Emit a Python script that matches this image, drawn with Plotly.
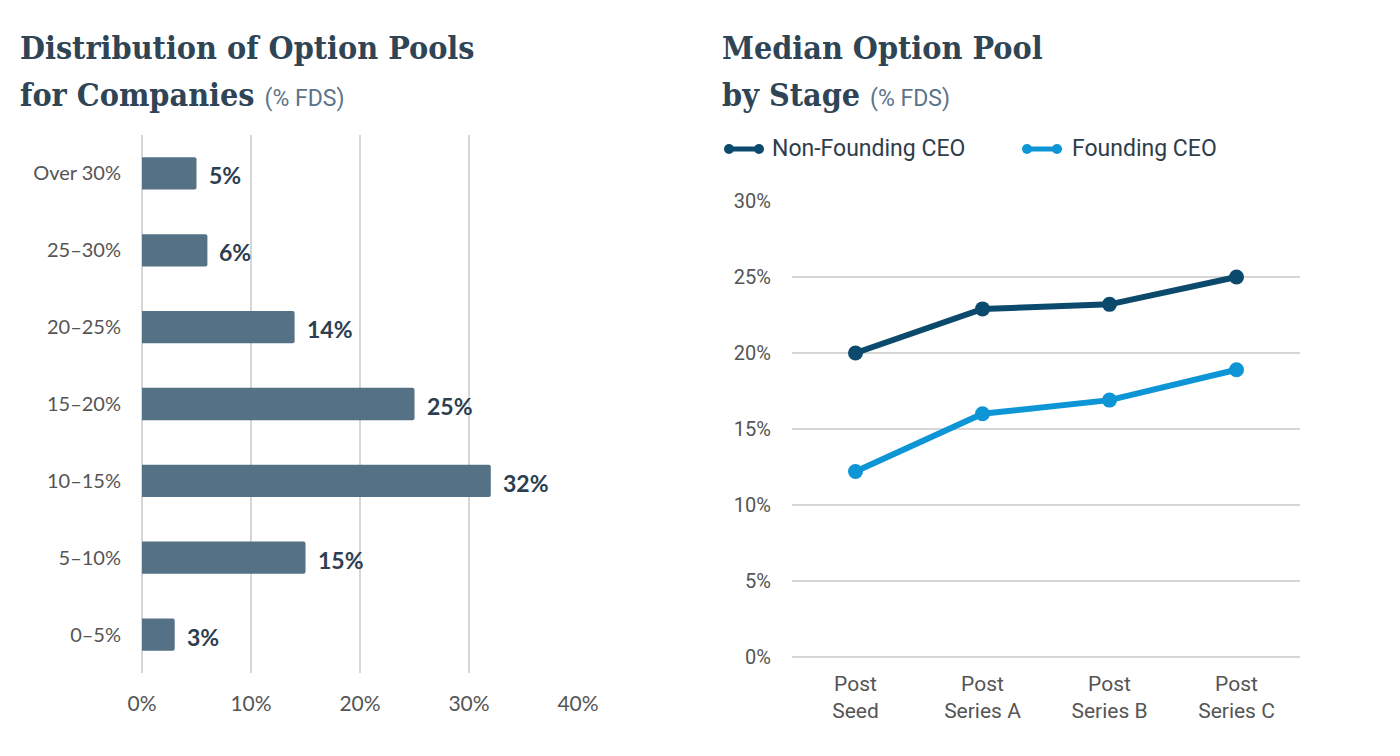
import plotly.graph_objects as go

# page body has an 8px margin; the figure is sized to fit inside the window
OFF = 8
W, H = 1400 - OFF, 756 - OFF

# ---------------- data ----------------
pool_ranges = ["0–5%", "5–10%", "10–15%", "15–20%", "20–25%", "25–30%", "Over 30%"]
pool_share = [3, 15, 32, 25, 14, 6, 5]
share_ticks = [0, 10, 20, 30, 40]
share_tick_labels = ["0%", "10%", "20%", "30%", "40%"]

stages = ["Post<br>Seed", "Post<br>Series A", "Post<br>Series B", "Post<br>Series C"]
non_founding = [20.0, 22.9, 23.2, 25.0]
founding = [12.2, 16.0, 16.9, 18.9]
pool_ticks = [0, 5, 10, 15, 20, 25, 30]
pool_tick_labels = ["0%", "5%", "10%", "15%", "20%", "25%", "30%"]

series_names = ["Non-Founding CEO", "Founding CEO"]

# ---------------- styles ----------------
TITLE_C = "#2f4556"
SUB_C = "#5b7489"
BAR_C = "#557186"
VAL_C = "#2c3e4f"
TICK_C = "#555555"
GRID_C = "#d6d6d6"
NF_C = "#0b4a6c"
F_C = "#0e95d6"
SANS = "Lato"
COND = "Roboto"
SERIF = "DejaVu Serif Condensed"

def px_x(p):
    return (p - OFF) / W

def px_y(p):
    return 1 - (p - OFF) / H

fig = go.Figure()

fig.add_trace(go.Bar(
    x=pool_share, y=pool_ranges, orientation="h",
    marker=dict(color=BAR_C, line=dict(width=0), cornerradius=2),
    width=0.42, xaxis="x", yaxis="y", showlegend=False, hoverinfo="skip",
))

for name, vals, col in [(series_names[0], non_founding, NF_C), (series_names[1], founding, F_C)]:
    fig.add_trace(go.Scatter(
        x=stages, y=vals, mode="lines+markers", name=name,
        line=dict(color=col, width=6),
        marker=dict(color=col, size=15),
        xaxis="x2", yaxis="y2", showlegend=False, hoverinfo="skip",
    ))

annotations = []
# value labels for bars
for cat, v in zip(pool_ranges, pool_share):
    annotations.append(dict(
        x=v, y=cat, xref="x", yref="y", text=f"{v}%", showarrow=False,
        xanchor="left", yanchor="middle", xshift=10, yshift=-2,
        font=dict(family=SANS, size=23, color=VAL_C, weight="bold"),
    ))

# titles
title_font = dict(family=SERIF, size=32, color=TITLE_C, weight="bold")
sub_span = "<span style='font-family:Roboto;font-size:23px;font-weight:normal;fill:%s'>(%% FDS)</span>" % SUB_C
annotations += [
    dict(x=px_x(18), y=px_y(48), xref="paper", yref="paper", xanchor="left", yanchor="middle",
         text="Distribution of Option Pools", showarrow=False, font=title_font),
    dict(x=px_x(18), y=px_y(95), xref="paper", yref="paper", xanchor="left", yanchor="middle",
         text="for Companies " + sub_span, showarrow=False, font=title_font),
    dict(x=px_x(720), y=px_y(48), xref="paper", yref="paper", xanchor="left", yanchor="middle",
         text="Median Option Pool", showarrow=False, font=title_font),
    dict(x=px_x(720), y=px_y(95), xref="paper", yref="paper", xanchor="left", yanchor="middle",
         text="by Stage " + sub_span, showarrow=False, font=title_font),
]

# custom legend
shapes = []
legend_items = [(series_names[0], NF_C, 729, 759, 770), (series_names[1], F_C, 1027, 1057, 1070)]
for name, col, x0, x1, tx in legend_items:
    ly = 149
    shapes.append(dict(type="line", xref="paper", yref="paper",
                       x0=px_x(x0), x1=px_x(x1), y0=px_y(ly), y1=px_y(ly),
                       line=dict(color=col, width=5)))
    for cx in (x0, x1):
        shapes.append(dict(type="circle", xref="paper", yref="paper",
                           x0=px_x(cx - 5), x1=px_x(cx + 5), y0=px_y(ly + 5), y1=px_y(ly - 5),
                           fillcolor=col, line=dict(width=0)))
    annotations.append(dict(x=px_x(tx), y=px_y(ly), xref="paper", yref="paper",
                            xanchor="left", yanchor="middle", text=name, showarrow=False,
                            font=dict(family=COND, size=23, color="#2e3d4a")))

fig.update_layout(
    width=W, height=H,
    margin=dict(l=0, r=0, t=0, b=0),
    paper_bgcolor="white", plot_bgcolor="white",
    showlegend=False,
    annotations=annotations,
    shapes=shapes,
    xaxis=dict(
        domain=[px_x(142), px_x(578)], range=[0, 40],
        tickvals=share_ticks, ticktext=share_tick_labels,
        showgrid=True, gridcolor=GRID_C, gridwidth=2,
        zeroline=True, zerolinecolor=GRID_C, zerolinewidth=2,
        showline=False, ticks="", ticklabelstandoff=16,
        tickfont=dict(family=SANS, size=21, color=TICK_C),
        fixedrange=True, automargin=False, anchor="y",
    ),
    yaxis=dict(
        domain=[px_y(673), px_y(135)], range=[-0.5, 6.5],
        type="category", categoryorder="array", categoryarray=pool_ranges,
        showgrid=False, zeroline=False, showline=False, ticks="",
        ticklabelstandoff=20,
        tickfont=dict(family=SANS, size=20, color=TICK_C),
        fixedrange=True, automargin=False, anchor="x",
    ),
    xaxis2=dict(
        domain=[px_x(792), px_x(1300)], range=[-0.5, 3.5],
        type="category",
        showgrid=False, zeroline=False, showline=False, ticks="",
        ticklabelstandoff=12,
        tickfont=dict(family=COND, size=21, color=TICK_C),
        fixedrange=True, automargin=False, anchor="y2",
    ),
    yaxis2=dict(
        domain=[px_y(657), px_y(201)], range=[0, 30],
        tickvals=pool_ticks, ticktext=pool_tick_labels,
        showgrid=True, gridcolor=GRID_C, gridwidth=2,
        zeroline=True, zerolinecolor=GRID_C, zerolinewidth=2,
        showline=False, ticks="", ticklabelstandoff=20,
        tickfont=dict(family=COND, size=20, color=TICK_C),
        fixedrange=True, automargin=False, anchor="x2",
    ),
)

fig.write_html("out.html", config=dict(displayModeBar=False))
